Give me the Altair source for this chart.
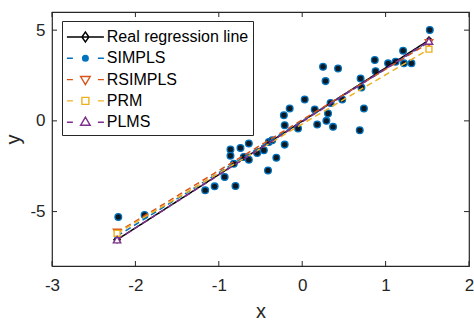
import altair as alt
import pandas as pd

# observed samples
x_obs = [-2.205, -1.89, -1.163, -1.05, -0.93, -0.86, -0.86, -0.82, -0.80, -0.74,
         -0.70, -0.64, -0.64, -0.54, -0.46, -0.41, -0.40, -0.36, -0.31, -0.22,
         -0.21, -0.21, -0.15, -0.05, 0.03, 0.15, 0.18, 0.25, 0.28, 0.29,
         0.31, 0.34, 0.37, 0.43, 0.48, 0.69, 0.70, 0.71, 0.74, 0.87,
         0.88, 1.03, 1.12, 1.21, 1.22, 1.31, 1.53]
y_obs = [-5.30, -5.19, -3.83, -3.61, -3.09, -1.58, -1.92, -2.36, -3.59, -1.49,
         -1.99, -1.25, -2.14, -1.77, -1.62, -2.73, -1.16, -1.07, -2.03, 0.31,
         -0.24, -1.31, 0.68, -0.42, 1.18, 0.63, -0.20, 2.98, 2.19, 0.0,
         0.41, 0.99, -0.33, 2.89, 1.18, -0.52, 2.34, 1.84, 0.68, 3.35,
         2.74, 3.17, 3.26, 3.87, 3.17, 3.17, 5.01]

# fitted lines (endpoints)
methods = ["Real regression line", "SIMPLS", "RSIMPLS", "PRM", "PLMS"]
line_colors = ["#000000", "#0072BD", "#D95319", "#EDB120", "#7E2F8E"]
marker_shapes = ["diamond", "circle", "triangle-down", "square", "triangle-up"]
marker_fills = ["white", "#0072BD", "white", "white", "white"]
marker_sizes = [40, 22, 55, 35, 55]
x_ends = [-2.22, 1.52]
y_start = [-6.55, -6.35, -6.15, -6.2, -6.55]
y_end = [4.45, 4.35, 4.3, 3.95, 4.4]

x_ticks = [-3, -2, -1, 0, 1, 2]
y_ticks = [-5, 0, 5]

# legend glyphs (line sample with marker), drawn in pixels then expressed in
# the symbol's unit space; the symbol's own centre sits U px from the entry edge
SYM_SIZE = 493
U = SYM_SIZE ** 0.5 / 2
SAMPLE = 37.0          # length of the line sample
MID = SAMPLE / 2


def u(px):
    return round((px - U) / U, 3)


def glyph(marker, solid):
    if solid:
        seg = f"M{u(0)},0H{u(SAMPLE)}"
    else:
        seg = f"M{u(0)},0H{u(6)}M{u(SAMPLE - 6)},0H{u(SAMPLE)}"
    c = MID
    s = 1 / U
    if marker == "diamond":
        mk = f"M{u(c)},{-5*s:.3f}L{u(c+3.5)},0L{u(c)},{5*s:.3f}L{u(c-3.5)},0Z"
    elif marker == "circle":
        r = 2.8 * s
        mk = (f"M{u(c+2.8)},0A{r:.3f},{r:.3f},0,1,1,{u(c-2.8)},0"
              f"A{r:.3f},{r:.3f},0,1,1,{u(c+2.8)},0Z")
    elif marker == "triangle-down":
        mk = f"M{u(c-4.8)},{-3.1*s:.3f}L{u(c+4.8)},{-3.1*s:.3f}L{u(c)},{5*s:.3f}Z"
    elif marker == "triangle-up":
        mk = f"M{u(c-4.8)},{3.1*s:.3f}L{u(c+4.8)},{3.1*s:.3f}L{u(c)},{-5*s:.3f}Z"
    else:
        h = 3.5 * s
        mk = f"M{u(c-3.5)},{-h:.3f}H{u(c+3.5)}V{h:.3f}H{u(c-3.5)}Z"
    return seg + mk


legend_paths = [glyph(sh, i == 0) for i, sh in enumerate(marker_shapes)]

W, H = 417, 254
FONT = "Liberation Sans"
AX = "#262626"

obs = pd.DataFrame({"x": x_obs, "y": y_obs})
rows = []
for i, m in enumerate(methods):
    rows.append({"method": m, "x": x_ends[0], "y": y_start[i], "k": 0})
    rows.append({"method": m, "x": x_ends[1], "y": y_end[i], "k": 1})
fits = pd.DataFrame(rows)

xs = alt.Scale(domain=[-3, 2], nice=False, zero=False)
ys = alt.Scale(domain=[-8, 6], nice=False, zero=False)
plain = "'' + datum.value"

scatter = alt.Chart(obs).mark_circle(
    size=45, fill="#0c1a26", stroke="#0072BD", strokeWidth=1.3, opacity=1
).encode(
    x=alt.X("x:Q", scale=xs, axis=alt.Axis(values=x_ticks, title="x", labelPadding=11,
                                           titlePadding=8, labelFlush=False, labelExpr=plain)),
    y=alt.Y("y:Q", scale=ys, axis=alt.Axis(values=y_ticks, title="y", labelPadding=7,
                                           titlePadding=6, labelFlush=False, labelExpr=plain)),
)

layers = [scatter]
for i, m in enumerate(methods):
    sub = alt.Chart(fits).transform_filter(alt.datum.method == m)
    dash = [1, 0] if i == 0 else [6, 4]
    layers.append(sub.mark_line(color=line_colors[i], strokeWidth=1.5, strokeDash=dash).encode(
        x=alt.X("x:Q", scale=xs), y=alt.Y("y:Q", scale=ys), order="k:Q"))
    layers.append(sub.mark_point(
        shape=marker_shapes[i], size=marker_sizes[i], stroke=line_colors[i],
        fill=marker_fills[i], filled=True, strokeWidth=1.4, opacity=1
    ).encode(x=alt.X("x:Q", scale=xs), y=alt.Y("y:Q", scale=ys)))

leg = dict(title=None, orient="none", legendX=10, legendY=9)
legend_layer = alt.Chart(fits).transform_filter(alt.datum.k == 0).mark_point(opacity=0).encode(
    x=alt.X("x:Q", scale=xs), y=alt.Y("y:Q", scale=ys),
    shape=alt.Shape("method:N", sort=methods,
                    scale=alt.Scale(domain=methods, range=legend_paths), legend=alt.Legend(**leg)),
    stroke=alt.Stroke("method:N", sort=methods,
                      scale=alt.Scale(domain=methods, range=line_colors), legend=alt.Legend(**leg)),
    fill=alt.Fill("method:N", sort=methods,
                  scale=alt.Scale(domain=methods, range=marker_fills), legend=alt.Legend(**leg)),
)
layers.append(legend_layer)

# inward tick marks on all four sides
xt = alt.Chart(pd.DataFrame({"t": x_ticks}))
yt = alt.Chart(pd.DataFrame({"t": y_ticks}))
tick_kw = dict(size=5, thickness=1, color=AX, opacity=1)
layers += [
    xt.mark_tick(**tick_kw).encode(x=alt.X("t:Q", scale=xs), y=alt.value(H - 2.5)),
    xt.mark_tick(**tick_kw).encode(x=alt.X("t:Q", scale=xs), y=alt.value(2.5)),
    yt.mark_tick(**tick_kw).encode(y=alt.Y("t:Q", scale=ys), x=alt.value(2.5)),
    yt.mark_tick(**tick_kw).encode(y=alt.Y("t:Q", scale=ys), x=alt.value(W - 2.5)),
]

chart = alt.layer(*layers).properties(
    width=W, height=H,
    background="white",
    autosize=alt.AutoSizeParams(type="none"),
    padding={"left": 52, "top": 12, "right": 5, "bottom": 56},
).configure_view(
    stroke=AX, strokeWidth=1.2
).configure_axis(
    grid=False, ticks=False, domain=False,
    labelFont=FONT, labelFontSize=17, labelColor=AX,
    titleFont=FONT, titleFontSize=20, titleFontWeight="normal", titleColor=AX,
).configure_legend(
    symbolSize=SYM_SIZE, symbolStrokeWidth=1.4, symbolOpacity=1,
    labelFont=FONT, labelFontSize=16, labelColor="black",
    labelOffset=SAMPLE - 2 * U + 2,
    fillColor="white", strokeColor="#262626", padding=4, rowPadding=1.3,
)

chart.save("out.html", embed_options={"renderer": "svg", "actions": False})
